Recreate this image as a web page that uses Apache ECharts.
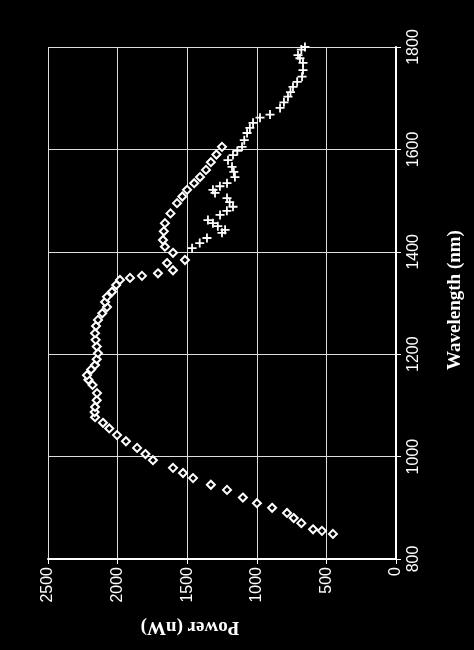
<!DOCTYPE html>
<html><head><meta charset="utf-8">
<script src="https://cdn.jsdelivr.net/npm/echarts@6/dist/echarts.min.js"></script>
<style>html,body{margin:0;padding:0;background:#000}#c{width:474px;height:650px}</style>
</head><body><div id="c"></div>
<script>
// [wavelength nm, power nW]
const wlDiamond = [849,855,858,870,880,890,900,909,920,935,945,958,968,978,993,1005,1017,1030,1042,1055,1066,1077,1087,1097,1110,1124,1140,1150,1159,1170,1179,1190,1202,1215,1228,1241,1255,1267,1280,1292,1302,1312,1322,1335,1345,1349,1353,1358,1364,1378,1384,1398,1410,1423,1440,1456,1475,1495,1508,1521,1534,1546,1560,1575,1590,1605];
const pwDiamond = [453,532,596,680,735,783,890,999,1100,1214,1330,1458,1530,1602,1746,1800,1860,1940,2004,2060,2105,2162,2165,2162,2150,2148,2180,2210,2220,2190,2162,2150,2141,2150,2158,2162,2155,2141,2110,2076,2090,2076,2040,2010,1983,1911,1825,1710,1602,1645,1516,1602,1660,1674,1668,1660,1620,1573,1535,1501,1450,1408,1365,1330,1290,1250];
const wlCross = [1407,1417,1427,1437,1443,1450,1456,1462,1472,1480,1488,1497,1505,1515,1521,1528,1534,1546,1556,1566,1579,1589,1597,1605,1618,1632,1642,1652,1662,1668,1681,1692,1703,1712,1722,1732,1742,1755,1769,1778,1784,1795,1800];
const pwCross = [1465,1410,1358,1250,1228,1280,1315,1351,1264,1215,1171,1195,1214,1300,1315,1265,1214,1157,1165,1178,1207,1171,1140,1106,1090,1070,1050,1027,977,905,833,805,776,758,740,710,675,668,668,690,704,680,654];
const xTicks = [0,500,1000,1500,2000,2500];
const yTicks = [800,1000,1200,1400,1600,1800];

const crossPath = 'path://M4,0H6V4H10V6H6V10H4V6H0V4H4Z';
const FF = '"Liberation Sans", sans-serif';
const chart = echarts.init(document.getElementById('c'));
chart.setOption({
  backgroundColor:'#000',
  animation:false,
  grid:{left:48,right:78,top:47,bottom:91},
  xAxis:{type:'value',min:xTicks[0],max:xTicks[xTicks.length-1],interval:500,inverse:true,position:'bottom',
    axisLine:{lineStyle:{color:'#fff',width:2}},axisTick:{show:true,lineStyle:{color:'#fff'}},
    axisLabel:{color:'#fff',fontSize:16,rotate:90,fontFamily:FF,margin:8,formatter:v=>String(v)},
    splitLine:{lineStyle:{color:'#ddd',width:1}}},
  yAxis:{type:'value',min:yTicks[0],max:yTicks[yTicks.length-1],interval:200,position:'right',
    axisLine:{show:true,lineStyle:{color:'#fff',width:2}},axisTick:{show:true,lineStyle:{color:'#fff'}},
    axisLabel:{color:'#fff',fontSize:16,rotate:90,fontFamily:FF,margin:10,formatter:v=>String(v)},
    splitLine:{lineStyle:{color:'#ddd',width:1}}},
  graphic:[
    {type:'text',style:{text:'Wavelength (nm)',fill:'#fff',font:'bold 19px "Liberation Serif", serif',textAlign:'center',textVerticalAlign:'middle'},position:[455,300],rotation:Math.PI/2},
    {type:'text',style:{text:'Power (nW)',fill:'#fff',font:'bold 19px "Liberation Serif", serif',textAlign:'center',textVerticalAlign:'middle'},position:[190,627],rotation:Math.PI}
  ],
  series:[
    {type:'scatter',symbol:'diamond',symbolSize:8,
     itemStyle:{color:'#000',borderColor:'#fff',borderWidth:2,opacity:1},
     data:wlDiamond.map((w,i)=>[pwDiamond[i],w])},
    {type:'scatter',symbol:crossPath,symbolSize:9,
     itemStyle:{color:'#fff',opacity:1},
     data:wlCross.map((w,i)=>[pwCross[i],w])}
  ]
});
</script></body></html>
